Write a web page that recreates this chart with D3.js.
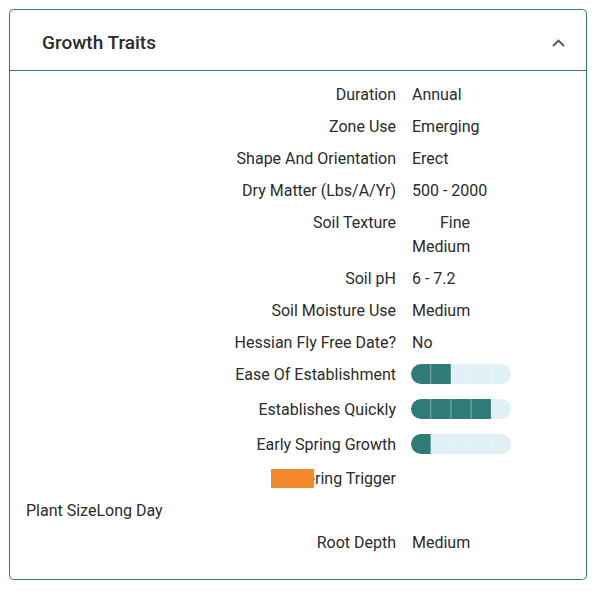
<!DOCTYPE html>
<html><head><meta charset="utf-8">
<script src="https://cdn.jsdelivr.net/npm/d3@7"></script>
<style>body{margin:0;background:#fff}text{font-family:Roboto,sans-serif;fill:#2b2b2b}</style>
</head><body><div id="chart"></div>
<script>
const labels = ["Duration","Zone Use","Shape And Orientation","Dry Matter (Lbs/A/Yr)","Soil Texture","Soil pH","Soil Moisture Use","Hessian Fly Free Date?","Ease Of Establishment","Establishes Quickly","Early Spring Growth","Flowering Trigger","Root Depth"];
const values = ["Annual","Emerging","Erect","500 - 2000","Fine|Medium","6 - 7.2","Medium","No",null,null,null,"","Medium"];
const ratings = [null,null,null,null,null,null,null,null,2,4,1,null,null];
const rowY = [94,126,158,190,222,278,310,342,374,409,444,478,542];
const stray = "Plant SizeLong Day";

const svg = d3.select("#chart").append("svg").attr("width",594).attr("height",592);
svg.append("rect").attr("x",9.5).attr("y",9.5).attr("width",577).attr("height",570).attr("rx",4)
  .attr("fill","#fff").attr("stroke","#2e7d7a");
svg.append("line").attr("x1",10).attr("x2",586).attr("y1",70.5).attr("y2",70.5).attr("stroke","#2e7d7a");
svg.append("text").attr("x",42).attr("y",49).attr("font-size",19).attr("font-weight",500).text("Growth Traits");
svg.append("path").attr("d","M553,46 L558.5,40.5 L564,46").attr("fill","none").attr("stroke","#555").attr("stroke-width",1.8);

const seg = d3.scaleBand().domain(d3.range(5)).range([411,511]).paddingInner(0.02);

labels.forEach((l,i)=>{
  const y = rowY[i];
  const t = svg.append("text").attr("x",396).attr("y",y+5.5).attr("text-anchor","end").attr("font-size",16);
  if (l === "Flowering Trigger") {
    svg.append("rect").attr("x",271).attr("y",y-9).attr("width",43).attr("height",19).attr("fill","#f58a2a");
  }
  t.text(l);
  const v = values[i];
  if (v) {
    const parts = v.split("|");
    if (parts.length>1) {
      svg.append("text").attr("x",440).attr("y",y+5.5).attr("font-size",16).text(parts[0]);
      svg.append("text").attr("x",412).attr("y",y+29.5).attr("font-size",16).text(parts[1]);
    } else svg.append("text").attr("x",412).attr("y",y+5.5).attr("font-size",16).text(v);
  }
  if (ratings[i] != null) {
    const cid = "clip"+i;
    svg.append("clipPath").attr("id",cid).append("rect").attr("x",411).attr("y",y-10).attr("width",100).attr("height",20).attr("rx",10);
    svg.append("g").attr("clip-path",`url(#${cid})`).selectAll("rect").data(d3.range(5)).join("rect")
      .attr("x",d=>seg(d)).attr("y",y-10).attr("width",seg.bandwidth()).attr("height",20)
      .attr("fill",d=>d<ratings[i]?"#2e7b78":"#e1f0f4");
  }
});
svg.append("text").attr("x",26).attr("y",515.5).attr("font-size",16).text(stray);
</script></body></html>
